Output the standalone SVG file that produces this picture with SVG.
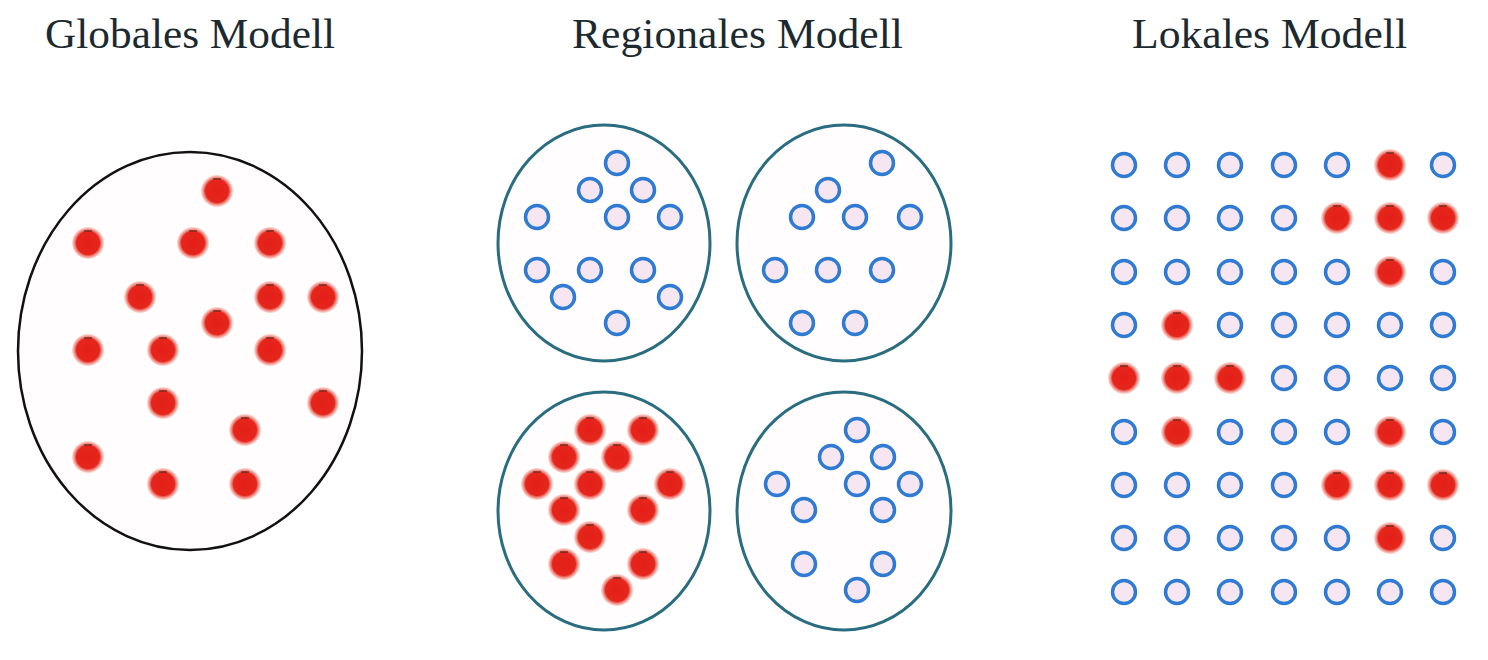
<svg xmlns="http://www.w3.org/2000/svg" width="1488" height="660" viewBox="0 0 1488 660">
<defs>
<radialGradient id="rg" cx="0.5" cy="0.5" r="0.5">
<stop offset="0" stop-color="#e41f17"/>
<stop offset="0.72" stop-color="#e5261c"/>
<stop offset="1" stop-color="#f08070" stop-opacity="0.25"/>
</radialGradient>
<symbol id="r" overflow="visible"><circle cx="0" cy="0" r="16" fill="url(#rg)"/><path d="M-4,-12 h8" stroke="#5a2a20" stroke-width="1.5" opacity="0.8"/></symbol>
<symbol id="b" overflow="visible"><circle cx="0" cy="0" r="11.5" fill="#f6e6f2" stroke="#2f7ad2" stroke-width="3.5"/></symbol>
</defs>
<style>
.t{font-family:"Liberation Serif","Times New Roman",serif;font-size:42px;fill:#1c2a30}
.big{fill:#fffdfd;stroke:#111;stroke-width:2.5}
.reg{fill:#fffdfd;stroke:#2a6c80;stroke-width:3}
</style>
<rect width="1488" height="660" fill="#ffffff"/>
<text class="t" x="45" y="48" textLength="290" lengthAdjust="spacingAndGlyphs">Globales Modell</text>
<text class="t" x="572" y="48" textLength="331" lengthAdjust="spacingAndGlyphs">Regionales Modell</text>
<text class="t" x="1132" y="48" textLength="275" lengthAdjust="spacingAndGlyphs">Lokales Modell</text>
<g id="global">
<ellipse class="big" cx="190" cy="351" rx="172" ry="199"/>
<use href="#r" x="217" y="191"/><use href="#r" x="88" y="243"/><use href="#r" x="193" y="243"/><use href="#r" x="270" y="243"/>
<use href="#r" x="140" y="297"/><use href="#r" x="270" y="297"/><use href="#r" x="323" y="297"/><use href="#r" x="217" y="323"/>
<use href="#r" x="88" y="350"/><use href="#r" x="163" y="350"/><use href="#r" x="270" y="350"/><use href="#r" x="163" y="403"/>
<use href="#r" x="323" y="403"/><use href="#r" x="245" y="430"/><use href="#r" x="88" y="457"/><use href="#r" x="163" y="484"/><use href="#r" x="245" y="484"/>
</g>
<g id="regional">
<ellipse class="reg" cx="604" cy="243" rx="106" ry="118"/>
<ellipse class="reg" cx="844" cy="243" rx="107" ry="118"/>
<ellipse class="reg" cx="604" cy="511" rx="106" ry="119"/>
<ellipse class="reg" cx="844" cy="511" rx="107" ry="119"/>
<use href="#b" x="617" y="163"/><use href="#b" x="590" y="190"/><use href="#b" x="643" y="190"/><use href="#b" x="537" y="217"/>
<use href="#b" x="617" y="217"/><use href="#b" x="670" y="217"/><use href="#b" x="537" y="270"/><use href="#b" x="590" y="270"/>
<use href="#b" x="643" y="270"/><use href="#b" x="563" y="297"/><use href="#b" x="670" y="297"/><use href="#b" x="617" y="323"/>
<use href="#b" x="882" y="163"/><use href="#b" x="828" y="190"/><use href="#b" x="802" y="217"/><use href="#b" x="855" y="217"/>
<use href="#b" x="910" y="217"/><use href="#b" x="775" y="270"/><use href="#b" x="828" y="270"/><use href="#b" x="882" y="270"/>
<use href="#b" x="802" y="323"/><use href="#b" x="855" y="323"/>
<use href="#r" x="590" y="430"/><use href="#r" x="643" y="430"/><use href="#r" x="564" y="457"/><use href="#r" x="617" y="457"/>
<use href="#r" x="537" y="484"/><use href="#r" x="590" y="484"/><use href="#r" x="670" y="484"/><use href="#r" x="564" y="510"/>
<use href="#r" x="643" y="510"/><use href="#r" x="590" y="537"/><use href="#r" x="564" y="564"/><use href="#r" x="643" y="564"/><use href="#r" x="617" y="590"/>
<use href="#b" x="857" y="430"/><use href="#b" x="831" y="457"/><use href="#b" x="883" y="457"/><use href="#b" x="777" y="484"/>
<use href="#b" x="857" y="484"/><use href="#b" x="910" y="484"/><use href="#b" x="804" y="510"/><use href="#b" x="883" y="510"/>
<use href="#b" x="804" y="564"/><use href="#b" x="883" y="564"/><use href="#b" x="857" y="590"/>
</g>
<g id="local">
<use href="#b" x="1124" y="165"/><use href="#b" x="1177" y="165"/><use href="#b" x="1230" y="165"/><use href="#b" x="1284" y="165"/><use href="#b" x="1337" y="165"/><use href="#r" x="1390" y="165"/><use href="#b" x="1443" y="165"/>
<use href="#b" x="1124" y="218"/><use href="#b" x="1177" y="218"/><use href="#b" x="1230" y="218"/><use href="#b" x="1284" y="218"/><use href="#r" x="1337" y="218"/><use href="#r" x="1390" y="218"/><use href="#r" x="1443" y="218"/>
<use href="#b" x="1124" y="272"/><use href="#b" x="1177" y="272"/><use href="#b" x="1230" y="272"/><use href="#b" x="1284" y="272"/><use href="#b" x="1337" y="272"/><use href="#r" x="1390" y="272"/><use href="#b" x="1443" y="272"/>
<use href="#b" x="1124" y="325"/><use href="#r" x="1177" y="325"/><use href="#b" x="1230" y="325"/><use href="#b" x="1284" y="325"/><use href="#b" x="1337" y="325"/><use href="#b" x="1390" y="325"/><use href="#b" x="1443" y="325"/>
<use href="#r" x="1124" y="378"/><use href="#r" x="1177" y="378"/><use href="#r" x="1230" y="378"/><use href="#b" x="1284" y="378"/><use href="#b" x="1337" y="378"/><use href="#b" x="1390" y="378"/><use href="#b" x="1443" y="378"/>
<use href="#b" x="1124" y="432"/><use href="#r" x="1177" y="432"/><use href="#b" x="1230" y="432"/><use href="#b" x="1284" y="432"/><use href="#b" x="1337" y="432"/><use href="#r" x="1390" y="432"/><use href="#b" x="1443" y="432"/>
<use href="#b" x="1124" y="485"/><use href="#b" x="1177" y="485"/><use href="#b" x="1230" y="485"/><use href="#b" x="1284" y="485"/><use href="#r" x="1337" y="485"/><use href="#r" x="1390" y="485"/><use href="#r" x="1443" y="485"/>
<use href="#b" x="1124" y="538"/><use href="#b" x="1177" y="538"/><use href="#b" x="1230" y="538"/><use href="#b" x="1284" y="538"/><use href="#b" x="1337" y="538"/><use href="#r" x="1390" y="538"/><use href="#b" x="1443" y="538"/>
<use href="#b" x="1124" y="592"/><use href="#b" x="1177" y="592"/><use href="#b" x="1230" y="592"/><use href="#b" x="1284" y="592"/><use href="#b" x="1337" y="592"/><use href="#b" x="1390" y="592"/><use href="#b" x="1443" y="592"/>
</g>
</svg>
